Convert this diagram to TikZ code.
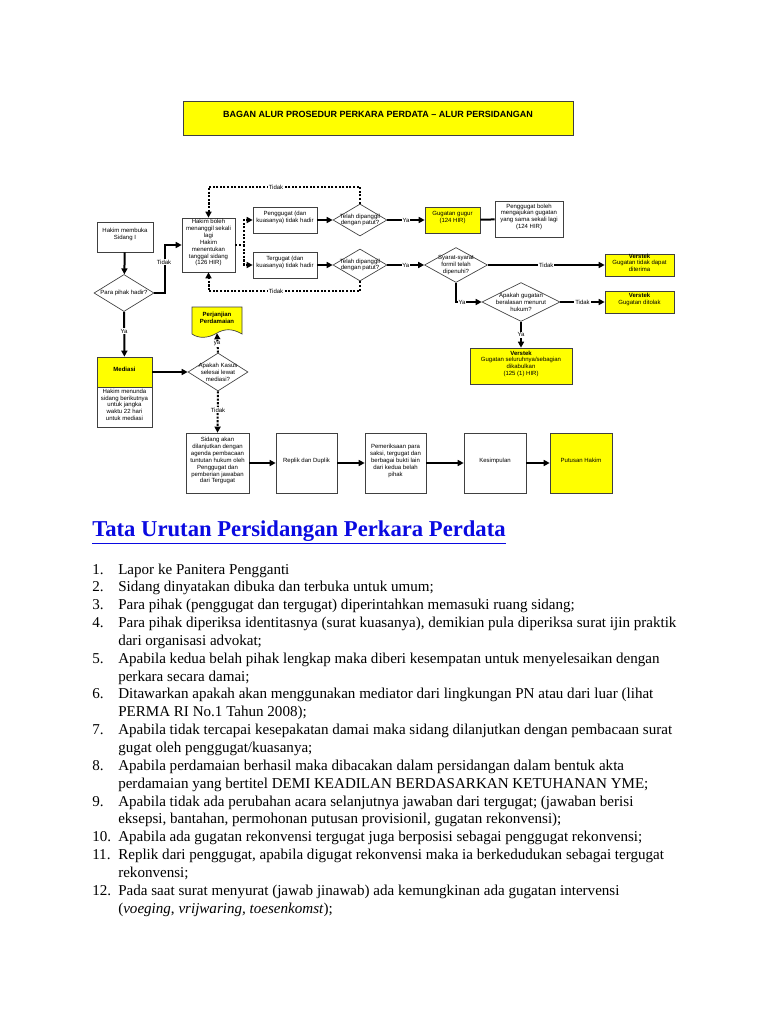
\documentclass[tikz,border=0pt]{standalone}
\usepackage{fontspec}
\setmainfont{Liberation Serif}
\newfontfamily\dfont{Liberation Sans}
\usetikzlibrary{arrows.meta,shapes.geometric,fit}
\definecolor{ylw}{RGB}{255,255,0}
\definecolor{headblue}{RGB}{10,10,225}
\begin{document}
\begin{tikzpicture}[x=0.75pt,y=-0.75pt,
  dtxt/.style={font=\dfont\fontsize{4.5}{5.15}\selectfont, align=center, inner sep=0pt},
  box/.style={dtxt, draw=black!75, line width=0.5pt, fill=white},
  ybox/.style={box, fill=ylw},
  dia/.style={diamond, draw=black!75, line width=0.5pt, fill=white, inner sep=0pt},
  conn/.style={line width=1.5pt, -{Triangle[length=4.5pt,width=4.5pt]}},
  dconn/.style={conn, dash pattern=on 1.6pt off 1.1pt},
  plain/.style={line width=1.5pt},
  lab/.style={dtxt, fill=white, inner sep=0.6pt},
  lst/.style={font=\fontsize{11.3}{13.7}\selectfont, inner sep=0pt, anchor=base west}
]
\useasboundingbox (0,0) rectangle (768,1024);
\fill[white] (0,0) rectangle (768,1024);

% title
\node[ybox, fit={(183,101) (573,135)}, font=\dfont\bfseries\fontsize{6.75}{8}\selectfont] (title) {BAGAN ALUR PROSEDUR PERKARA PERDATA – ALUR PERSIDANGAN};

% boxes
\node[box, fit={(97,222) (153,252)}] (hm) {Hakim membuka\\Sidang I};
\node[box, fit={(182,218) (235,272)}] (hb) {Hakim boleh\\menanggil sekali\\lagi\\Hakim\\menentukan\\tanggal sidang\\(126 HIR)};
\node[box, fit={(253,207) (317,233)}] (pg) {Penggugat (dan\\kuasanya) tidak hadir};
\node[box, fit={(253,252) (317,278)}] (tg) {Tergugat (dan\\kuasanya) tidak hadir};
\node[ybox, fit={(425,207) (480,233)}] (gg) {Gugatan gugur\\(124 HIR)};
\node[box, fit={(495,201) (563,237)}] (pb) {Penggugat boleh\\mengajukan gugatan\\yang sama sekali lagi\\(124 HIR)};
\node[ybox, fit={(605,254) (674,276)}] (v1) {\textbf{Verstek}\\Gugatan tidak dapat\\diterima};
\node[ybox, fit={(605,291) (674,313)}] (v2) {\textbf{Verstek}\\Gugatan ditolak};
\node[ybox, fit={(470,348) (572,384)}] (v3) {\textbf{Verstek}\\Gugatan seluruhnya/sebagian\\dikabulkan\\(125 (1) HIR)};
\node[ybox, fit={(97,357) (152,387)}, font=\dfont\bfseries\fontsize{4.5}{5.15}\selectfont] (med) {Mediasi};
\node[box, fit={(97,387) (152,427)}] (mt) {Hakim menunda\\sidang berikutnya\\untuk jangka\\waktu 22 hari\\untuk mediasi};
\node[box, fit={(186,433) (249,493)}] (sa) {Sidang akan\\dilanjutkan dengan\\agenda pembacaan\\tuntutan hukum oleh\\Penggugat dan\\pemberian jawaban\\dari Tergugat};
\node[box, fit={(276,433) (337,493)}] (rd) {Replik dan Duplik};
\node[box, fit={(365,433) (426,493)}] (pm) {Pemeriksaan para\\saksi, tergugat dan\\berbagai bukti lain\\dari kedua belah\\pihak};
\node[box, fit={(464,433) (526,493)}] (ks) {Kesimpulan};
\node[ybox, fit={(550,433) (612,493)}] (ph) {Putusan Hakim};

% document shape
\draw[fill=ylw, draw=black!75, line width=0.5pt] (192,307) -- (242,307) -- (242,334)
  .. controls (232,328) and (224,329) .. (217,333)
  .. controls (209,338) and (199,339) .. (192,334) -- cycle;
\node[dtxt, fit={(192,307) (242,333)}, font=\dfont\bfseries\fontsize{4.5}{5.15}\selectfont] (pp) {Perjanjian\\Perdamaian};

% diamonds
\node[dia, minimum width=45pt, minimum height=27.75pt] (d0) at (124,293) {};
\node[dtxt] (d0t) at (d0) {Para pihak hadir?};
\node[dia, minimum width=40.5pt, minimum height=24pt] (dA) at (360,220) {};
\node[dtxt] (dAt) at (dA) {Telah dipanggil\\dengan patut?};
\node[dia, minimum width=40.5pt, minimum height=24pt] (dB) at (360,265) {};
\node[dtxt] (dBt) at (dB) {Telah dipanggil\\dengan patut?};
\node[dia, minimum width=47.25pt, minimum height=26.25pt] (dC) at (456,265) {};
\node[dtxt] (dCt) at (dC) {Syarat-syarat\\formil telah\\dipenuhi?};
\node[dia, minimum width=58.5pt, minimum height=29.25pt] (dD) at (521,302) {};
\node[dtxt] (dDt) at (dD) {Apakah gugatan\\beralasan menurut\\hukum?};
\node[dia, minimum width=45pt, minimum height=28.5pt] (dE) at (218,372) {};
\node[dtxt] (dEt) at (dE) {Apakah Kasus\\selesai lewat\\mediasi?};

% connectors
\draw[conn] (hm) -- (d0);
\draw[conn] (d0.east) -- (165,293) |- (hb.west);
\node[lab] (l1) at (164,262) {Tidak};
\draw[conn] (d0) -- (med);
\node[lab] (l2) at (124,331) {Ya};

\coordinate (hbr) at (244,245);
\draw[dconn] (hb.east) -- (hbr) |- (pg.west);
\draw[dconn] (hbr) |- (tg.west);
\draw[conn] (pg) -- (dA);
\draw[conn] (tg) -- (dB);
\draw[dconn] (dA.north) -- (360,187) -| (hb.north);
\node[lab] (l3) at (276,187) {Tidak};
\draw[dconn] (dB.south) -- (360,291) -| (hb.south);
\node[lab] (l4) at (276,291) {Tidak};

\draw[conn] (dA) -- node[lab] (l5) {Ya} (gg);
\draw[plain] (gg) -- (pb);
\draw[conn] (dB) -- node[lab] (l6) {Ya} (dC);
\draw[conn] (dC) -- node[lab] (l7) {Tidak} (v1);
\draw[conn] (dC.south) |- (dD.west);
\node[lab] (l8) at (462,302) {Ya};
\draw[conn] (dD) -- node[lab] (l9) {Tidak} (v2);
\draw[conn] (dD) -- node[lab] (l10) {Ya} (v3);

\draw[conn] (med.east) -- (dE.west);
\draw[dconn] (dE.north) -- (pp.south);
\node[lab] (l11) at (217,344) {ya};
\draw[dconn] (dE.south) -- (sa.north);
\node[lab] (l12) at (218,410) {Tidak};

\draw[conn] (sa) -- (rd);
\draw[conn] (rd) -- (pm);
\draw[conn] (pm) -- (ks);
\draw[conn] (ks) -- (ph);

% heading
\node[anchor=base west, inner sep=0pt, text=headblue, font=\bfseries\fontsize{17}{20}\selectfont] (head) at (92,536) {\underline{Tata Urutan Persidangan Perkara Perdata}};

% list numbers
\node[lst] (n1) at (92,574) {1.};
\node[lst] (n2) at (92,591.85) {2.};
\node[lst] (n3) at (92,609.7) {3.};
\node[lst] (n4) at (92,627.55) {4.};
\node[lst] (n5) at (92,663.25) {5.};
\node[lst] (n6) at (92,698.95) {6.};
\node[lst] (n7) at (92,734.65) {7.};
\node[lst] (n8) at (92,770.35) {8.};
\node[lst] (n9) at (92,806.05) {9.};
\node[lst] (n10) at (92,841.75) {10.};
\node[lst] (n11) at (92,859.6) {11.};
\node[lst] (n12) at (92,895.3) {12.};

% list text
\node[lst] (t1) at (118,574) {Lapor ke Panitera Pengganti};
\node[lst] (t2) at (118,591.85) {Sidang dinyatakan dibuka dan terbuka untuk umum;};
\node[lst] (t3) at (118,609.7) {Para pihak (penggugat dan tergugat) diperintahkan memasuki ruang sidang;};
\node[lst] (t4a) at (118,627.55) {Para pihak diperiksa identitasnya (surat kuasanya), demikian pula diperiksa surat ijin praktik};
\node[lst] (t4b) at (118,645.4) {dari organisasi advokat;};
\node[lst] (t5a) at (118,663.25) {Apabila kedua belah pihak lengkap maka diberi kesempatan untuk menyelesaikan dengan};
\node[lst] (t5b) at (118,681.1) {perkara secara damai;};
\node[lst] (t6a) at (118,698.95) {Ditawarkan apakah akan menggunakan mediator dari lingkungan PN atau dari luar (lihat};
\node[lst] (t6b) at (118,716.8) {PERMA RI No.1 Tahun 2008);};
\node[lst] (t7a) at (118,734.65) {Apabila tidak tercapai kesepakatan damai maka sidang dilanjutkan dengan pembacaan surat};
\node[lst] (t7b) at (118,752.5) {gugat oleh penggugat/kuasanya;};
\node[lst] (t8a) at (118,770.35) {Apabila perdamaian berhasil maka dibacakan dalam persidangan dalam bentuk akta};
\node[lst] (t8b) at (118,788.2) {perdamaian yang bertitel DEMI KEADILAN BERDASARKAN KETUHANAN YME;};
\node[lst] (t9a) at (118,806.05) {Apabila tidak ada perubahan acara selanjutnya jawaban dari tergugat; (jawaban berisi};
\node[lst] (t9b) at (118,823.9) {eksepsi, bantahan, permohonan putusan provisionil, gugatan rekonvensi);};
\node[lst] (t10) at (118,841.75) {Apabila ada gugatan rekonvensi tergugat juga berposisi sebagai penggugat rekonvensi;};
\node[lst] (t11a) at (118,859.6) {Replik dari penggugat, apabila digugat rekonvensi maka ia berkedudukan sebagai tergugat};
\node[lst] (t11b) at (118,877.45) {rekonvensi;};
\node[lst] (t12a) at (118,895.3) {Pada saat surat menyurat (jawab jinawab) ada kemungkinan ada gugatan intervensi};
\node[lst] (t12b) at (118,913.15) {(\textit{voeging}, \textit{vrijwaring, toesenkomst});};
\end{tikzpicture}
\end{document}
